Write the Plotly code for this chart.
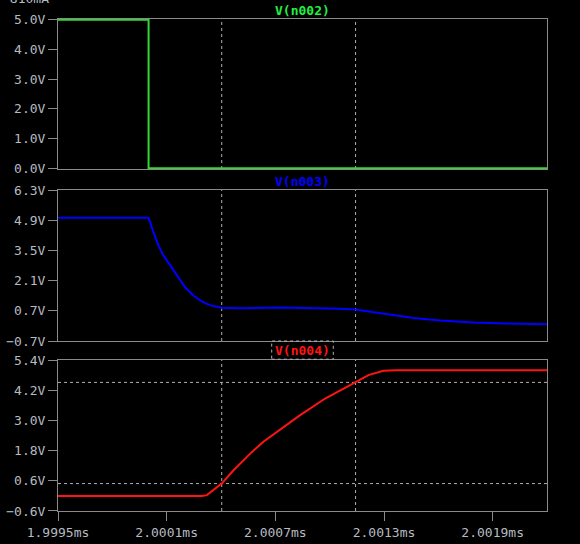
import plotly.graph_objects as go

# ---- data (time in ms, voltage in V) ----
t_n002 = [1.9995, 2.0000, 2.0000, 2.0022]
v_n002 = [5.0, 5.0, 0.0, 0.0]

t_n003 = [1.9995, 2.0000, 2.000027, 2.000054, 2.000082, 2.000119, 2.000156, 2.000202,
          2.000248, 2.000285, 2.000322, 2.000349, 2.000404, 2.000506, 2.000727,
          2.000985, 2.001058, 2.001141, 2.001206, 2.001334, 2.001463, 2.001610,
          2.001795, 2.001979, 2.0022]
v_n003 = [5.02, 5.02, 4.35, 3.73, 3.27, 2.80, 2.37, 1.79,
          1.41, 1.18, 1.02, 0.94, 0.84, 0.82, 0.85,
          0.82, 0.80, 0.76, 0.68, 0.53, 0.37, 0.25,
          0.16, 0.11, 0.08]

t_n004 = [1.9995, 2.000294, 2.000322, 2.000358, 2.000404, 2.000469, 2.000561, 2.000634,
          2.000708, 2.000837, 2.000975, 2.001058, 2.001141, 2.001214, 2.001297,
          2.001371, 2.0022]
v_n004 = [0.0, 0.0, 0.03, 0.22, 0.49, 1.02, 1.68, 2.15,
          2.54, 3.21, 3.87, 4.18, 4.51, 4.80, 4.97,
          4.99, 4.99]

x_tickvals = [1.9995, 2.0001, 2.0007, 2.0013, 2.0019]
x_ticktext = ["1.9995ms", "2.0001ms", "2.0007ms", "2.0013ms", "2.0019ms"]
y1_tickvals = [0.0, 1.0, 2.0, 3.0, 4.0, 5.0]
y1_ticktext = ["0.0V", "1.0V", "2.0V", "3.0V", "4.0V", "5.0V"]
y2_tickvals = [-0.7, 0.7, 2.1, 3.5, 4.9, 6.3]
y2_ticktext = ["\u22120.7V", "0.7V", "2.1V", "3.5V", "4.9V", "6.3V"]
y3_tickvals = [-0.6, 0.6, 1.8, 3.0, 4.2, 5.4]
y3_ticktext = ["\u22120.6V", "0.6V", "1.8V", "3.0V", "4.2V", "5.4V"]

cursor_t = [2.000404, 2.001143]
cursor_v = [0.49, 4.51]

X_RANGE = [1.9995, 2.0022]
FONT = "DejaVu Sans Mono"
TICKCOL = "#b6bbc0"
AXCOL = "#8a8a8a"

fig = go.Figure()
fig.add_trace(go.Scatter(x=t_n002, y=v_n002, mode="lines", line=dict(color="#33d633", width=2),
                         xaxis="x", yaxis="y", showlegend=False, cliponaxis=False))
fig.add_trace(go.Scatter(x=t_n003, y=v_n003, mode="lines", line=dict(color="#0000ff", width=2),
                         xaxis="x2", yaxis="y2", showlegend=False))
fig.add_trace(go.Scatter(x=t_n004, y=v_n004, mode="lines", line=dict(color="#ff1414", width=2),
                         xaxis="x3", yaxis="y3", showlegend=False))

def xaxis(show_labels, anchor):
    d = dict(range=X_RANGE, showgrid=False, zeroline=False, showline=True, mirror=True,
             linecolor=AXCOL, linewidth=1, anchor=anchor, domain=[0, 1],
             automargin=False, layer="below traces")
    if show_labels:
        d.update(tickvals=x_tickvals, ticktext=x_ticktext, ticks="outside", ticklen=9,
                 tickcolor=AXCOL, tickfont=dict(family=FONT, size=13, color=TICKCOL))
    else:
        d.update(showticklabels=False, ticks="")
    return d

def yaxis(rng, tv, tt, dom, anchor):
    return dict(range=rng, domain=dom, tickvals=tv, ticktext=tt, showgrid=False, zeroline=False,
                showline=True, mirror=True, linecolor=AXCOL, linewidth=1, ticks="outside",
                ticklen=9, tickcolor=AXCOL, anchor=anchor, automargin=False,
                layer="below traces",
                tickfont=dict(family=FONT, size=13, color=TICKCOL))

D1 = [0.6951, 1.0]
D2 = [0.3455, 0.6524]
D3 = [0.0, 0.3069]

shapes = []
for xa, ya in [("x", "y"), ("x2", "y2"), ("x3", "y3")]:
    for ct in cursor_t:
        shapes.append(dict(type="line", xref=xa, yref=ya + " domain", x0=ct, x1=ct, y0=0, y1=1,
                           line=dict(color="#b0b0b0", width=1, dash="dot"), layer="below"))
for cv in cursor_v:
    shapes.append(dict(type="line", xref="x3 domain", yref="y3", x0=0, x1=1, y0=cv, y1=cv,
                       line=dict(color="#b0b0b0", width=1, dash="dot"), layer="below"))
# dotted frame around V(n004) label
shapes.append(dict(type="rect", xref="paper", yref="paper", x0=0.437, x1=0.563, y0=0.3085, y1=0.3455,
                   line=dict(color="#b0b0b0", width=1, dash="dot")))

annotations = [
    dict(text="<b>V(n002)</b>", xref="paper", yref="paper", x=0.5, y=D1[1], yshift=9, yanchor="middle",
         showarrow=False, font=dict(family=FONT, size=13, color="#22ee44")),
    dict(text="<b>V(n003)</b>", xref="paper", yref="paper", x=0.5, y=D2[1], yshift=9, yanchor="middle",
         showarrow=False, font=dict(family=FONT, size=13, color="#0000ff")),
    dict(text="<b>V(n004)</b>", xref="paper", yref="paper", x=0.5, y=D3[1], yshift=10, yanchor="middle",
         showarrow=False, font=dict(family=FONT, size=13, color="#ff1414")),
    dict(text="\u2212810mA", xref="paper", yref="paper", x=-58 / 489, xanchor="left",
         y=1 + 19 / 492, yanchor="middle", yshift=2, showarrow=False,
         font=dict(family=FONT, size=13, color=TICKCOL)),
]

fig.update_layout(
    width=580, height=544,
    margin=dict(l=58, r=33, t=19, b=33),
    paper_bgcolor="#000000", plot_bgcolor="#000000",
    xaxis=xaxis(False, "y"),
    xaxis2=xaxis(False, "y2"),
    xaxis3=xaxis(True, "y3"),
    yaxis=yaxis([-0.025, 5.025], y1_tickvals, y1_ticktext, D1, "x"),
    yaxis2=yaxis([-0.7, 6.3], y2_tickvals, y2_ticktext, D2, "x2"),
    yaxis3=yaxis([-0.6, 5.4], y3_tickvals, y3_ticktext, D3, "x3"),
    shapes=shapes,
    annotations=annotations,
    showlegend=False,
)

fig.write_html("out.html", config={"displayModeBar": False},
               post_script="document.body.style.margin='0';document.body.style.overflow='hidden';document.body.style.background='#000';")
